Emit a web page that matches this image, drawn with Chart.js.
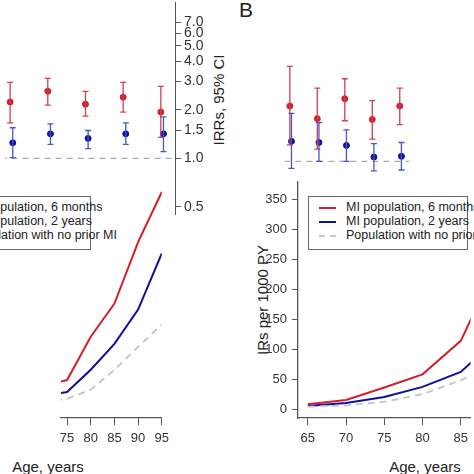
<!DOCTYPE html>
<html><head><meta charset="utf-8">
<script src="https://cdn.jsdelivr.net/npm/chart.js@4"></script>
<style>
body{margin:0;width:474px;height:474px;overflow:hidden;background:#fff;position:relative;font-family:"Liberation Sans",Arial,sans-serif;color:#222}
canvas{position:absolute}
.t{position:absolute;white-space:nowrap}
.leg{position:absolute;top:196px;width:158px;height:52px;border:1px solid #666;background:#fff;font-size:12.5px}
.leg div{position:absolute;left:37px;white-space:nowrap}
.leg span{position:absolute;left:-27px;top:7px;width:17px;height:0;border-top:2px solid}
</style></head><body>
<div class="t" style="left:239px;top:-2px;font-size:21px">B</div>
<div class="leg" style="left:-69px"><div style="top:3px"><span style="border-color:#d0202a"></span>MI population, 6 months</div><div style="top:17px"><span style="border-color:#10109a"></span>MI population, 2 years</div><div style="top:31px"><span style="border-color:#c8c8c8;border-top-style:dashed"></span>Population with no prior MI</div></div>
<div class="leg" style="left:308px"><div style="top:3px"><span style="border-color:#d0202a"></span>MI population, 6 months</div><div style="top:17px"><span style="border-color:#10109a"></span>MI population, 2 years</div><div style="top:31px"><span style="border-color:#c8c8c8;border-top-style:dashed"></span>Population with no prior MI</div></div>
<div class="t" style="left:218px;top:100px;font-size:15px;transform:translate(-50%,-50%) rotate(-90deg)">IRRs, 95% CI</div>
<div class="t" style="left:262px;top:300px;font-size:15px;transform:translate(-50%,-50%) rotate(-90deg)">IRs per 1000 PY</div>
<div class="t" style="left:48px;top:466px;font-size:15px;transform:translate(-50%,-50%)">Age, years</div>
<div class="t" style="left:425px;top:466px;font-size:15px;transform:translate(-50%,-50%)">Age, years</div>
<canvas id="aUp" style="left:0;top:-9px" width="240" height="235"></canvas>
<canvas id="bUp" style="left:237px;top:-9px" width="237" height="235"></canvas>
<canvas id="aLow" style="left:0;top:180px" width="175" height="294"></canvas>
<canvas id="bLow" style="left:237px;top:169px" width="237" height="305"></canvas>
<script>
var ages = [65, 70, 75, 80, 85, 90, 95];
var irrTicks = [0.5, 1, 1.5, 2, 3, 4, 5, 6, 7];
var irTicks = [0, 50, 100, 150, 200, 250, 300, 350];
var ageTicks = [65, 70, 75, 80, 85, 90, 95];

// panel A, IRRs (ages 75-95)
var irrAgesA = [75, 80, 85, 90, 95];
var irrRedA = [2.24, 2.61, 2.17, 2.40, 1.94];
var irrRedLoA = [1.66, 2.14, 1.83, 1.94, 1.35];
var irrRedHiA = [2.97, 3.14, 2.61, 2.97, 2.80];
var irrBlueA = [1.25, 1.42, 1.33, 1.42, 1.42];
var irrBlueLoA = [1.01, 1.22, 1.15, 1.22, 1.10];
var irrBlueHiA = [1.55, 1.64, 1.49, 1.66, 1.81];
// panel A, IRs
var irRedA = [20, 38, 48, 120, 175, 277, 360];
var irBlueA = [12, 22, 28, 65, 108, 165, 258];
var irGrayA = [6, 10, 17, 32, 65, 103, 140];

// panel B, IRRs (ages 65-85)
var irrAgesB = [65, 70, 75, 80, 85];
var irrRedB = [2.11, 1.78, 2.33, 1.76, 2.11];
var irrRedLoB = [1.25, 1.18, 1.73, 1.35, 1.64];
var irrRedHiB = [3.6, 2.69, 3.05, 2.27, 2.69];
var irrBlueB = [1.31, 1.29, 1.24, 1.06, 1.07];
var irrBlueLoB = [0.91, 1.0, 1.0, 0.88, 0.89];
var irrBlueHiB = [1.91, 1.69, 1.53, 1.27, 1.29];
// panel B, IRs
var irRedB = [8, 15, 36, 58, 114, 250, 330];
var irBlueB = [5, 10, 20, 37, 62, 120, 180];
var irGrayB = [4, 6, 12, 25, 48, 80, 120];

var RED = "#d0202a", BLUE = "#10109a", GRAY = "#c8c8c8";
var AX = "#555";
var FONT = {family: "Liberation Sans, Arial", size: 13};

var errPlugin = {
    id: "errbars",
    afterDatasetsDraw: function (chart, args, opts) {
        var ctx = chart.ctx, xs = chart.scales.x, ys = chart.scales.y;
        (opts.sets || []).forEach(function (s) {
            ctx.save();
            ctx.strokeStyle = s.color;
            ctx.lineWidth = 1.3;
            s.x.forEach(function (xv, i) {
                var px = xs.getPixelForValue(xv);
                var y1 = ys.getPixelForValue(s.lo[i]), y2 = ys.getPixelForValue(s.hi[i]);
                ctx.beginPath();
                ctx.moveTo(px, y1); ctx.lineTo(px, y2);
                ctx.moveTo(px - 3, y1); ctx.lineTo(px + 3, y1);
                ctx.moveTo(px - 3, y2); ctx.lineTo(px + 3, y2);
                ctx.stroke();
            });
            ctx.restore();
        });
    }
};

function pts(xs, ys, off) {
    return xs.map(function (x, i) { return {x: x + off, y: ys[i]}; });
}
function line(ys, color, dash) {
    return {type: "line", data: pts(ages, ys, 0), borderColor: color, borderWidth: 2,
        borderDash: dash || [], pointRadius: 0, tension: 0};
}

function irrChart(id, xa, red, redLo, redHi, blue, blueLo, blueHi, xmin, xmax, offR, offB, showAxis, dashFrom) {
    return new Chart(document.getElementById(id), {
        type: "scatter",
        data: {datasets: [
            {type: "line", data: [{x: dashFrom, y: 1}, {x: xmax + 5, y: 1}], borderColor: "#aaa",
                borderWidth: 1.3, borderDash: [6, 5], pointRadius: 0},
            {data: pts(xa, red, offR), backgroundColor: RED, borderColor: RED, pointRadius: 3},
            {data: pts(xa, blue, offB), backgroundColor: BLUE, borderColor: BLUE, pointRadius: 3}
        ]},
        options: {
            responsive: false, animation: false, events: [],
            layout: {padding: 0},
            plugins: {legend: {display: false}, tooltip: {enabled: false},
                errbars: {sets: [
                    {x: pts(xa, red, offR).map(function (p) { return p.x; }), lo: redLo, hi: redHi, color: "#d04050"},
                    {x: pts(xa, blue, offB).map(function (p) { return p.x; }), lo: blueLo, hi: blueHi, color: "#4a55c8"}
                ]}},
            scales: {
                x: {type: "linear", min: xmin, max: xmax, display: false},
                y: {type: "logarithmic", min: 0.447, max: 9.32, position: "right", display: showAxis,
                    afterFit: function (s) { s.width = 65; },
                    afterBuildTicks: function (s) { s.ticks = irrTicks.map(function (v) { return {value: v}; }); },
                    ticks: {color: "#333", font: {family: "Liberation Sans, Arial", size: 14},
                        callback: function (v) { return Number(v).toFixed(1); }},
                    grid: {drawOnChartArea: false, tickLength: 6, color: AX},
                    border: {color: AX}}
            }
        },
        plugins: [errPlugin]
    });
}

function irChart(id, red, blue, gray, xmin, xmax, showY, padRight) {
    return new Chart(document.getElementById(id), {
        type: "scatter",
        data: {datasets: [line(gray, GRAY, [7, 5]), line(blue, BLUE), line(red, RED)]},
        options: {
            responsive: false, animation: false, events: [],
            layout: {padding: {right: padRight}},
            plugins: {legend: {display: false}, tooltip: {enabled: false}},
            scales: {
                x: {type: "linear", min: xmin, max: xmax,
                    afterFit: function (s) { s.height = 56; },
                    afterBuildTicks: function (s) {
                        s.ticks = ageTicks.filter(function (v) { return v >= xmin && v <= xmax; })
                            .map(function (v) { return {value: v}; });
                    },
                    ticks: {color: "#333", font: FONT, padding: 6, maxRotation: 0, minRotation: 0, autoSkip: false},
                    grid: {drawOnChartArea: false, tickLength: 7, color: AX},
                    border: {color: AX, width: 1.3}},
                y: {min: -15, max: 380, display: showY,
                    afterFit: function (s) { s.width = 61; },
                    afterBuildTicks: function (s) { s.ticks = irTicks.map(function (v) { return {value: v}; }); },
                    ticks: {color: "#333", font: FONT, padding: 5},
                    grid: {drawOnChartArea: false, tickLength: 6, color: AX},
                    border: {color: AX, width: 1.3}}
            }
        }
    });
}

irrChart("aUp", irrAgesA, irrRedA, irrRedLoA, irrRedHiA, irrBlueA, irrBlueLoA, irrBlueHiA,
    73.72, 96.28, -0.6, -0.25, true, 60);
irrChart("bUp", irrAgesB, irrRedB, irrRedLoB, irrRedHiB, irrBlueB, irrBlueLoB, irrBlueHiB,
    55.9, 86.28, -0.4, -0.1, false, 63.6);
irChart("aLow", irRedA, irBlueA, irGrayA, 73.72, 95, false, 10);
irChart("bLow", irRedB, irBlueB, irGrayB, 63.72, 86.28, true, 0);
</script>
</body></html>
